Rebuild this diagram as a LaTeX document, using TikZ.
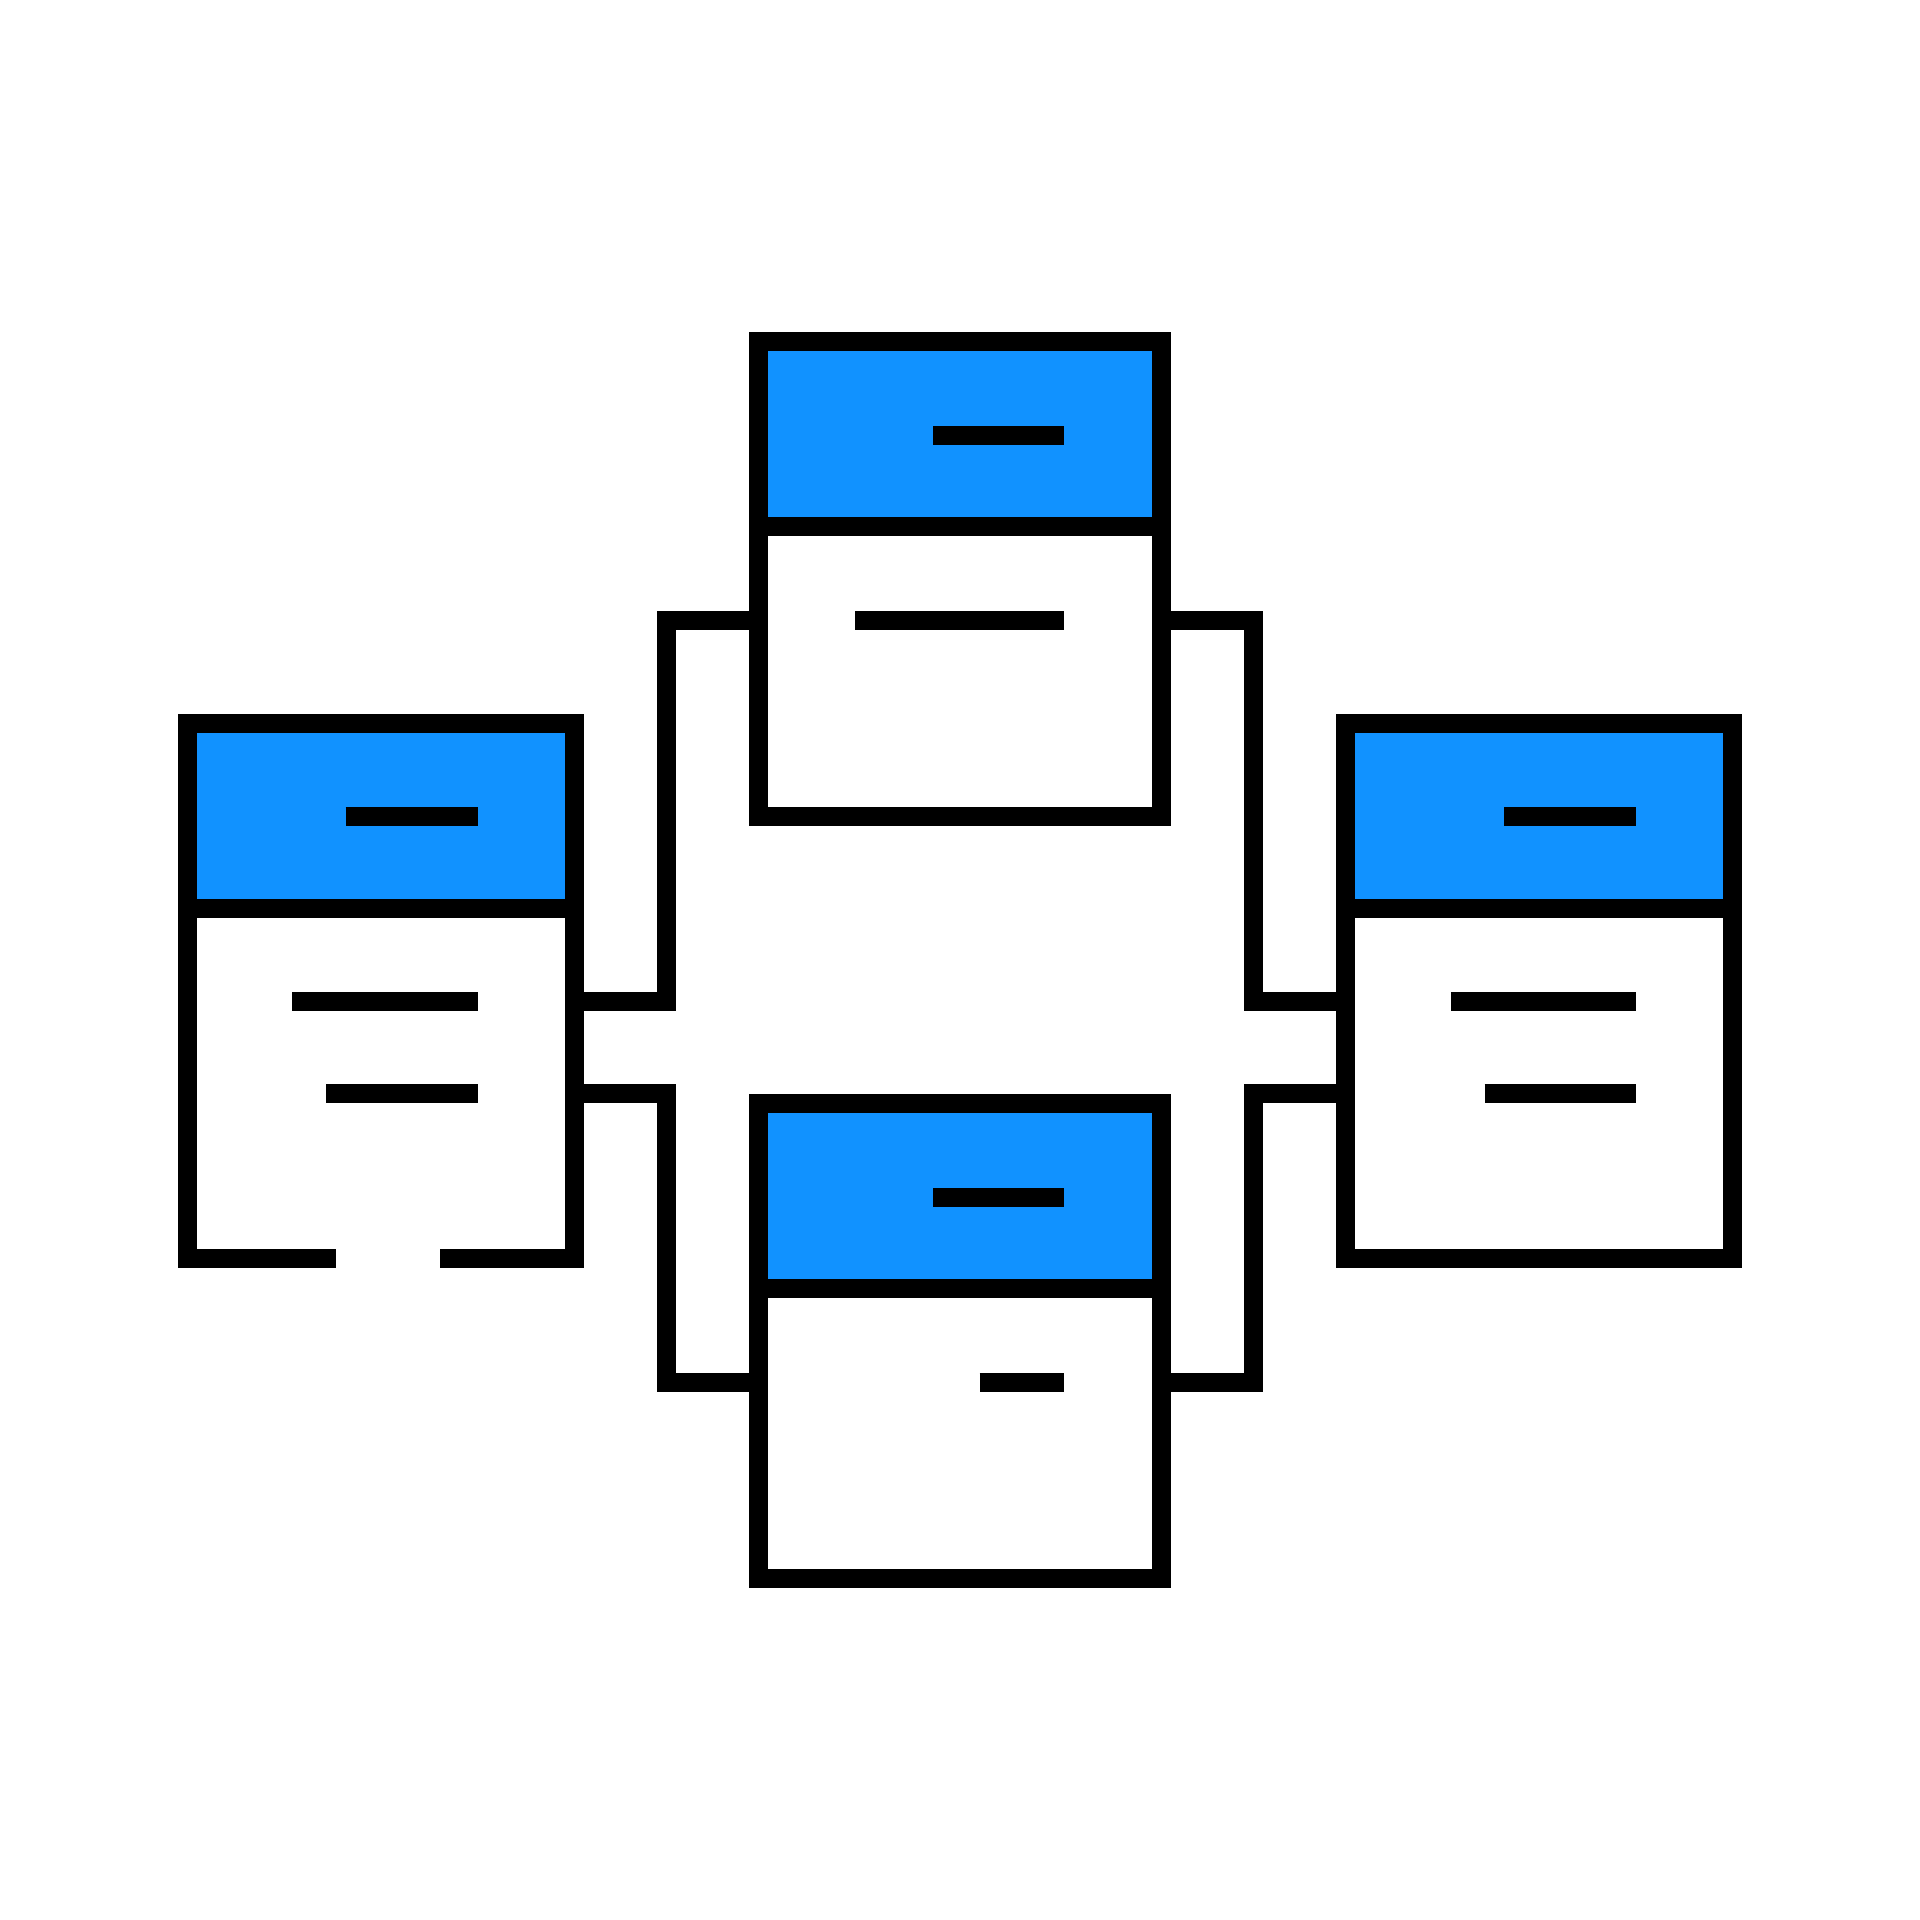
\documentclass[tikz,border=0pt]{standalone}
\definecolor{hdr}{RGB}{17,146,255}
\tikzset{
  card/.style={rectangle, draw, line width=1.9mm, inner sep=0pt, outer sep=0pt, minimum width=4.03cm, minimum height=4.75cm},
  side/.style={card, minimum width=3.865cm, minimum height=5.345cm},
  bar/.style={line width=1.9mm},
  link/.style={line width=1.9mm}
}
\begin{document}
\begin{tikzpicture}[x=0.01cm,y=-0.01cm]
\useasboundingbox (0,0) rectangle (1920,1920);
% cards
\node[card] (top) at (960,579) {};
\node[card] (bot) at (960,1341) {};
\node[side,draw=none] (lft) at (380.75,990.75) {};
\node[side] (rgt) at (1539.25,990.75) {};
% left card, open at the bottom
\draw[bar] ([xshift=1.485cm]lft.south west) -- (lft.south west) -- (lft.north west) -- (lft.north east) -- (lft.south east) -- ([xshift=-1.34cm]lft.south east);
% headers
\foreach \n in {top,bot,lft,rgt}{
  \fill[hdr] ([xshift=0.095cm,yshift=-0.095cm]\n.north west) rectangle ([xshift=-0.095cm,yshift=-1.76cm]\n.north east);
  \draw[bar] ([yshift=-1.855cm]\n.north west) -- ([yshift=-1.855cm]\n.north east);
}
% connectors
\draw[link] (lft.north east) ++(0,278) -- ++(92.7,0) |- ([yshift=-2.79cm]top.north west);
\draw[link] (lft.north east) ++(0,370) -- ++(92.7,0) |- ([yshift=-2.785cm]bot.north west);
\draw[link] (rgt.north west) ++(0,278) -- ++(-92.7,0) |- ([yshift=-2.79cm]top.north east);
\draw[link] (rgt.north west) ++(0,370) -- ++(-92.7,0) |- ([yshift=-2.785cm]bot.north east);
% text lines
\draw[bar] (933,435.5) -- (1064,435.5);
\draw[bar] (855,620.5) -- (1064,620.5);
\draw[bar] (933,1197.5) -- (1064,1197.5);
\draw[bar] (979.6,1382) -- (1064,1382);
\draw[bar] (345.7,816.8) -- (477.7,816.8);
\draw[bar] (292.3,1001.5) -- (477.7,1001.5);
\draw[bar] (326,1093.5) -- (477.7,1093.5);
\draw[bar] (1504.2,816.8) -- (1636.2,816.8);
\draw[bar] (1450.8,1001.5) -- (1636.2,1001.5);
\draw[bar] (1484.5,1093.5) -- (1636.2,1093.5);
\end{tikzpicture}
\end{document}
